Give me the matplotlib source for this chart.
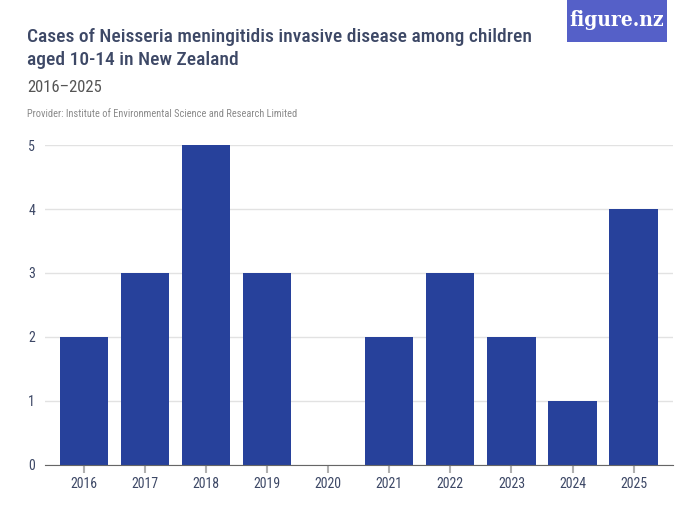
import matplotlib
matplotlib.use("Agg")
import matplotlib.pyplot as plt
from matplotlib.patches import Rectangle

years = ["2016", "2017", "2018", "2019", "2020", "2021", "2022", "2023", "2024", "2025"]
cases = [2, 3, 5, 3, 0, 2, 3, 2, 1, 4]
yticks = [0, 1, 2, 3, 4, 5]

title = "Cases of Neisseria meningitidis invasive disease among children\naged 10-14 in New Zealand"
subtitle = "2016\u20132025"
provider = "Provider: Institute of Environmental Science and Research Limited"

plt.rcParams['font.family'] = ['Roboto Condensed', 'Roboto', 'DejaVu Sans']

text_col = "#3d4866"
bar_col = "#27419b"

fig = plt.figure(figsize=(7, 5.25), dpi=100)
ax = fig.add_axes([0.064, 0.1143, 0.897, 0.6095])

x = range(len(years))
ax.bar(x, cases, width=0.79, color=bar_col, zorder=3)
ax.set_xlim(-0.64, len(years) - 0.36)
ax.set_ylim(0, 5)
ax.set_xticks(list(x))
ax.set_xticklabels(years)
ax.set_yticks(yticks)
ax.yaxis.grid(True, color="#e2e2e2", linewidth=1, zorder=0)
for s in ["top", "right", "left"]:
    ax.spines[s].set_visible(False)
ax.spines["bottom"].set_color("#666666")
ax.spines["bottom"].set_zorder(4)
ax.tick_params(axis="x", colors="#b0b0b0", length=6, width=1.5, labelcolor=text_col, labelsize=10, pad=3)
ax.tick_params(axis="y", length=0, labelcolor=text_col, labelsize=10, pad=7)

fig.text(0.039, 0.947, title, fontsize=14, color=text_col, va="top", ha="left",
         linespacing=1.4, weight="medium")
fig.text(0.039, 0.834, subtitle, fontsize=12, color="#555555", va="center", ha="left")
fig.text(0.039, 0.783, provider, fontsize=7.5, color="#8a8a8a", va="center", ha="left")

fig.patches.append(Rectangle((0.81, 0.92), 0.143, 0.08, transform=fig.transFigure,
                             facecolor="#5560c8", edgecolor="none"))
fig.text(0.8815, 0.962, "figure.nz", fontsize=15, color="white", family="DejaVu Serif",
         fontstretch="condensed", weight="bold", ha="center", va="center")

fig.savefig("out.png", dpi=100)
